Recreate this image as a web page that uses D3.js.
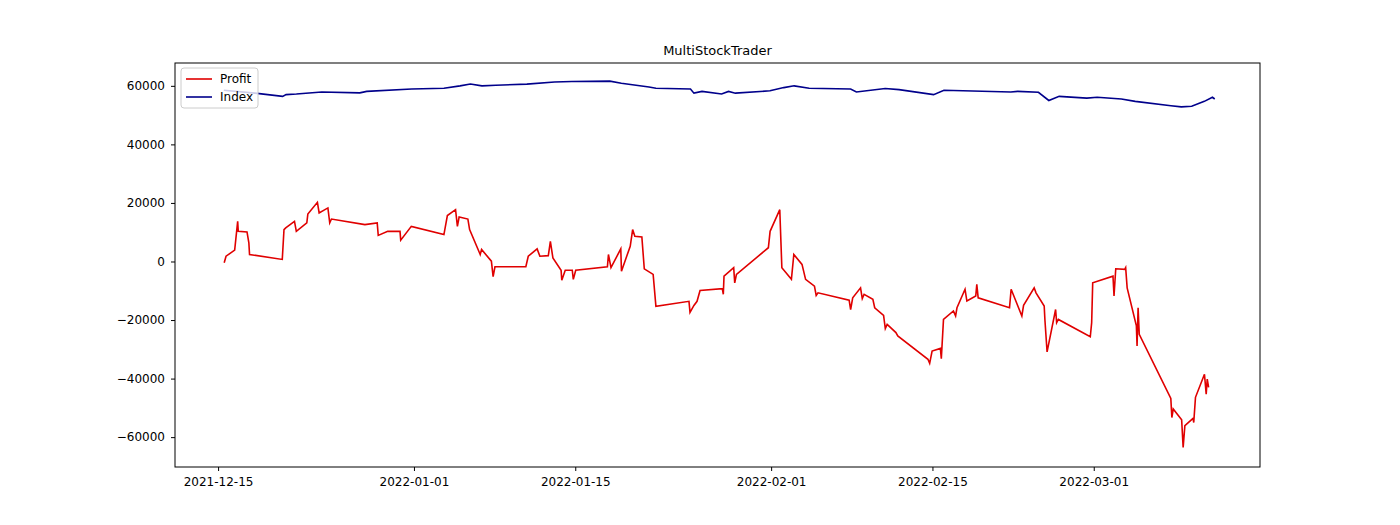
<!DOCTYPE html>
<html>
<head>
<meta charset="utf-8">
<script src="https://cdn.jsdelivr.net/npm/d3@7"></script>
<style>
  body { margin: 0; background: #fff; }
  text { font-family: "DejaVu Sans", sans-serif; }
</style>
</head>
<body>
<script>
// days since 2021-12-15 00:00 and values
var startDate = new Date(2021, 11, 15);
var profitDays = [0.53,0.69,1.44,1.70,1.75,2.51,2.67,2.73,5.57,5.72,5.87,6.63,6.79,7.70,7.79,8.62,8.77,9.53,9.69,9.84,
  12.74,13.81,13.90,14.72,15.79,15.85,16.77,19.60,19.90,20.61,20.77,20.92,21.68,21.83,22.75,22.87,23.72,23.87,24.03,
  26.71,26.92,27.69,27.93,28.66,28.84,29.06,29.77,29.83,30.13,30.74,30.83,31.04,33.79,33.88,34.10,34.95,35.01,35.77,
  35.98,36.17,36.78,36.99,37.76,38.0,40.87,40.96,41.30,41.57,41.83,43.76,43.85,43.91,44.75,44.84,44.99,47.76,47.91,
  48.75,48.93,49.76,49.97,50.68,50.99,51.76,51.91,52.07,54.77,54.90,55.08,55.76,55.91,56.07,56.83,56.99,57.76,57.91,
  58.07,58.83,58.99,61.61,61.76,61.97,62.69,62.77,62.96,63.82,64.01,64.13,64.83,64.99,65.76,65.85,65.97,68.69,68.83,
  69.76,69.91,70.83,70.99,71.70,71.76,71.95,72.69,72.78,72.93,75.70,75.82,75.91,77.67,77.76,77.91,78.69,78.77,78.90,
  79.70,79.76,79.85,79.95,82.69,82.78,82.90,83.63,83.76,83.91,84.62,84.68,84.83,85.61,85.76,85.85,85.97];
var profitValues = [-450,1800,3900,13700,10300,10100,6400,2400,700,10900,11500,13700,10300,13200,16200,20200,16600,18300,13200,14500,
  12600,13200,8900,10300,10300,7300,12000,9200,15700,17700,12000,15200,14500,10900,2400,4100,100,-5200,-1800,
  -1800,1800,4300,1800,2000,6900,1200,-3000,-6400,-3000,-3000,-6100,-3000,-1800,2400,-2100,4300,-3300,5200,
  10900,8600,8400,-2500,-4400,-15300,-13600,-17400,-15000,-13600,-9900,-9300,-11200,-5000,-2100,-7300,-4400,4700,10300,
  17700,-2100,-6100,2400,-1000,-6100,-8400,-11600,-10700,-13200,-16400,-12400,-9000,-12700,-11200,-12900,-15800,-18400,-22900,
  -21500,-24300,-25400,-33400,-34800,-30600,-29700,-33200,-19800,-16900,-18600,-15800,-9500,-13500,-11800,-7800,-12400,-15800,-9500,
  -18600,-15000,-9000,-10700,-15200,-19800,-30900,-16400,-20900,-19800,-25700,-20900,-7300,-5000,-11800,-2500,-2700,-2100,-9000,
  -22000,-28900,-15800,-24900,-46800,-53300,-50400,-54100,-63500,-56100,-53600,-55000,-46400,-38500,-45300,-40200,-43000];

var indexDays = [0.5,3.2,5.6,5.9,6.8,9.0,12.3,12.9,16.8,19.6,21.0,21.9,22.9,24.1,26.8,29.2,30.7,34.0,35.0,37.4,38.0,41.0,41.3,42.0,
  43.7,44.3,44.9,47.9,49.1,50.0,51.3,54.9,55.4,57.9,59.1,62.1,63.0,68.8,69.4,71.2,72.1,73.0,75.4,76.3,78.4,79.6,82.7,83.6,84.5,85.6,86.3,86.5];
var indexValues = [58500,57500,56400,57000,57200,57900,57600,58100,58900,59200,60000,60600,60000,60200,60600,61300,61500,61600,60900,59600,59200,58900,57500,58100,
  57200,58100,57500,58300,59400,60000,59200,58900,57900,59100,58700,57000,58500,57900,58100,57800,55000,56400,55800,56100,55500,54700,53200,52800,53000,54700,56100,55500];

var xTicks = ['2021-12-15','2022-01-01','2022-01-15','2022-02-01','2022-02-15','2022-03-01'];
var yTicks = [-60000,-40000,-20000,0,20000,40000,60000];

var width = 1400, height = 525,
    margin = { top: 63, right: 140, bottom: 58, left: 175 };

function toDate(d) { return new Date(startDate.getTime() + d * 864e5); }

var svg = d3.select('body').append('svg')
    .attr('width', width)
    .attr('height', height);

var x = d3.scaleTime()
    .domain([toDate(-3.74), toDate(90.43)])
    .range([margin.left, width - margin.right]);

var y = d3.scaleLinear()
    .domain([-70200, 67800])
    .range([height - margin.bottom, margin.top]);

var parse = d3.timeParse('%Y-%m-%d');

var xAxis = svg.append('g')
    .attr('transform', 'translate(0,' + (height - margin.bottom) + ')')
    .call(d3.axisBottom(x).tickValues(xTicks.map(parse)).tickFormat(d3.timeFormat('%Y-%m-%d')).tickSizeOuter(0).tickSize(4).tickPadding(6));

var yAxis = svg.append('g')
    .attr('transform', 'translate(' + margin.left + ',0)')
    .call(d3.axisLeft(y).tickValues(yTicks).tickFormat(d3.format('d')).tickSizeOuter(0).tickSize(4).tickPadding(6));

svg.selectAll('.tick text').style('font-size', '12px').attr('fill', '#000');
svg.selectAll('.domain').remove();

svg.append('rect')
    .attr('x', margin.left).attr('y', margin.top)
    .attr('width', width - margin.left - margin.right)
    .attr('height', height - margin.top - margin.bottom)
    .attr('fill', 'none').attr('stroke', '#000').attr('stroke-width', 1);

var line = d3.line()
    .x(function(d) { return x(toDate(d[0])); })
    .y(function(d) { return y(d[1]); });

svg.append('path')
    .datum(d3.zip(profitDays, profitValues))
    .attr('d', line)
    .attr('fill', 'none').attr('stroke', '#e00000').attr('stroke-width', 1.6);

svg.append('path')
    .datum(d3.zip(indexDays, indexValues))
    .attr('d', line)
    .attr('fill', 'none').attr('stroke', '#00008b').attr('stroke-width', 1.6);

svg.append('text')
    .attr('x', (margin.left + width - margin.right) / 2)
    .attr('y', 55)
    .attr('text-anchor', 'middle')
    .style('font-size', '13px')
    .text('MultiStockTrader');

// legend
var legend = svg.append('g').attr('transform', 'translate(181,68)');
legend.append('rect')
    .attr('width', 77).attr('height', 40).attr('rx', 3)
    .attr('fill', '#fff').attr('fill-opacity', 0.8)
    .attr('stroke', '#ccc');
[['Profit', '#e00000'], ['Index', '#00008b']].forEach(function(s, i) {
    var yy = 11 + i * 18;
    legend.append('line')
        .attr('x1', 5).attr('x2', 31).attr('y1', yy).attr('y2', yy)
        .attr('stroke', s[1]).attr('stroke-width', 1.6);
    legend.append('text')
        .attr('x', 39).attr('y', yy + 4)
        .style('font-size', '12px')
        .text(s[0]);
});
</script>
</body>
</html>
